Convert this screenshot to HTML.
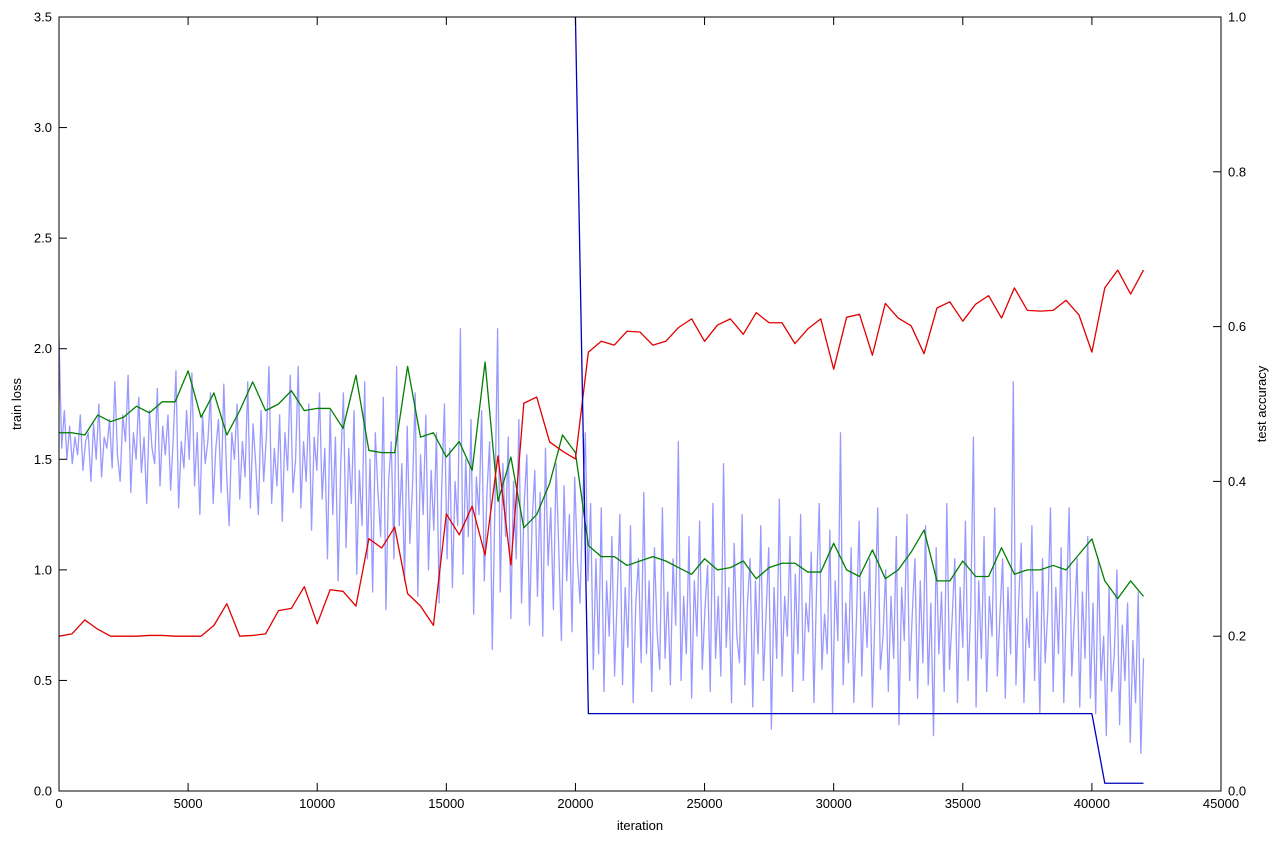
<!DOCTYPE html>
<html><head><meta charset="utf-8"><style>
body{margin:0;background:#fff;}
svg{display:block;font-family:"Liberation Sans",sans-serif;}
</style></head><body>
<svg id="chart" width="1279" height="842" viewBox="0 0 1279 842" xmlns="http://www.w3.org/2000/svg">
<defs><clipPath id="clip"><rect x="59" y="17" width="1162" height="774"/></clipPath></defs>
<rect width="1279" height="842" fill="#fff"/>
<g id="series" clip-path="url(#clip)"></g>
<g id="axes"></g>
</svg>
<script>
const xTicks=[0,5000,10000,15000,20000,25000,30000,35000,40000,45000];
const leftTicks=[0.0,0.5,1.0,1.5,2.0,2.5,3.0,3.5];
const rightTicks=[0.0,0.2,0.4,0.6,0.8,1.0];
const trainLossEnd=42000;
const trainLoss=[2.05,1.55,1.72,1.50,1.65,1.48,1.60,1.52,1.70,1.45,1.58,1.62,1.40,1.66,1.50,1.75,1.42,1.60,1.55,1.68,1.46,1.85,1.52,1.40,1.70,1.58,1.88,1.35,1.62,1.50,1.78,1.44,1.60,1.30,1.72,1.55,1.48,1.82,1.38,1.65,1.52,1.70,1.36,1.60,1.90,1.28,1.58,1.46,1.72,1.50,1.89,1.38,1.62,1.25,1.70,1.48,1.58,1.80,1.30,1.55,1.68,1.35,1.84,1.45,1.20,1.62,1.50,1.75,1.32,1.58,1.42,1.85,1.28,1.66,1.48,1.25,1.72,1.40,1.60,1.92,1.30,1.55,1.38,1.70,1.22,1.62,1.45,1.88,1.35,1.50,1.92,1.28,1.58,1.40,1.75,1.18,1.60,1.45,1.80,1.32,1.55,
1.05,1.72,1.25,1.60,0.95,1.48,1.80,1.10,1.55,1.30,1.72,0.98,1.45,1.20,1.85,1.05,1.50,0.90,1.62,1.35,1.15,1.78,0.82,1.40,1.58,1.05,1.92,1.20,1.48,0.95,1.65,1.12,1.38,1.80,0.88,1.52,1.25,1.70,1.00,1.45,1.18,1.62,0.85,1.38,1.75,1.05,1.55,0.92,1.40,1.20,2.09,0.98,1.50,1.15,1.68,0.80,1.42,1.25,1.72,0.95,1.35,1.58,0.64,1.30,2.09,0.90,1.48,1.15,1.60,0.78,1.40,1.05,1.68,0.85,1.30,1.52,0.75,1.22,1.45,0.88,1.35,0.70,1.55,1.02,1.28,0.82,1.48,1.10,0.68,1.38,0.95,1.25,0.72,1.42,1.05,0.85,1.30,1.62,0.95,
1.30,0.55,1.05,0.62,1.28,0.45,0.95,0.70,1.15,0.52,0.88,1.25,0.48,0.92,0.65,1.20,0.40,0.85,1.05,0.58,1.35,0.62,0.95,0.45,1.10,0.72,0.55,1.28,0.60,0.90,0.48,1.05,0.75,1.58,0.50,0.88,0.62,1.15,0.42,0.95,0.70,1.22,0.55,0.82,1.02,0.45,1.30,0.60,0.88,0.52,1.48,0.65,0.92,0.40,1.12,0.70,0.58,1.25,0.48,0.85,1.05,0.38,0.95,0.62,1.20,0.50,0.80,1.10,0.28,0.92,0.60,1.32,0.52,0.88,0.70,1.15,0.45,0.98,0.62,1.25,0.50,0.85,0.72,1.08,0.40,0.92,1.30,0.55,0.80,0.62,1.18,0.35,0.95,0.68,1.62,0.48,0.85,0.58,1.10,0.40,0.78,1.22,0.52,0.90,0.65,1.05,0.38,0.82,1.28,0.55,0.70,1.00,0.45,0.88,0.60,1.15,0.30,0.92,0.68,1.25,0.50,0.80,1.05,0.42,0.95,0.58,1.20,0.48,0.85,0.25,1.10,0.62,0.90,0.45,1.30,0.55,0.78,1.05,0.40,0.92,0.65,1.22,0.50,0.82,1.60,0.38,0.95,0.60,1.15,0.45,0.88,0.70,1.28,0.52,0.80,1.05,0.42,0.92,0.62,1.85,0.48,0.85,1.12,0.40,0.78,0.65,1.20,0.50,0.90,0.35,1.05,0.58,0.82,1.28,0.45,0.92,0.62,1.10,0.40,0.85,1.28,0.52,0.78,1.05,0.38,0.90,0.60,1.15,0.42,
0.85,0.35,1.05,0.50,0.70,0.25,0.92,0.45,0.62,1.00,0.30,0.75,0.50,0.85,0.22,0.68,0.40,0.90,0.17,0.60];
const testLoss=[1.62,1.62,1.61,1.70,1.67,1.69,1.74,1.71,1.76,1.76,1.90,1.69,1.80,1.61,1.72,1.85,1.72,1.75,1.81,1.72,1.73,1.73,1.64,1.88,1.54,1.53,1.53,1.92,1.60,1.62,1.51,1.58,1.45,1.94,1.31,1.51,1.19,1.25,1.39,1.61,1.53,1.11,1.06,1.06,1.02,1.04,1.06,1.04,1.01,0.98,1.05,1.00,1.01,1.04,0.96,1.01,1.03,1.03,0.99,0.99,1.12,1.00,0.97,1.09,0.96,1.00,1.08,1.18,0.95,0.95,1.04,0.97,0.97,1.10,0.98,1.00,1.00,1.02,1.00,1.07,1.14,0.95,0.87,0.95,0.88];
const testAcc=[0.200,0.203,0.221,0.209,0.200,0.200,0.200,0.201,0.201,0.200,0.200,0.200,0.214,0.242,0.200,0.201,0.203,0.233,0.236,0.264,0.216,0.260,0.258,0.239,0.326,0.314,0.341,0.255,0.239,0.214,0.358,0.331,0.368,0.305,0.433,0.292,0.501,0.509,0.451,0.439,0.429,0.567,0.581,0.576,0.594,0.593,0.576,0.581,0.599,0.610,0.581,0.602,0.610,0.590,0.618,0.605,0.605,0.578,0.597,0.610,0.545,0.612,0.616,0.563,0.630,0.611,0.601,0.565,0.624,0.632,0.607,0.629,0.640,0.611,0.650,0.621,0.620,0.621,0.634,0.615,0.567,0.650,0.673,0.642,0.673];
const accStart=20000;
const otherAcc=[1.0,0.1,0.1,0.1,0.1,0.1,0.1,0.1,0.1,0.1,0.1,0.1,0.1,0.1,0.1,0.1,0.1,0.1,0.1,0.1,0.1,0.1,0.1,0.1,0.1,0.1,0.1,0.1,0.1,0.1,0.1,0.1,0.1,0.1,0.1,0.1,0.1,0.1,0.1,0.1,0.1,0.01,0.01,0.01,0.01];

const L=59,R=1221,T=17,B=791;
const sx=v=>L+(v/45000)*(R-L);
const syL=v=>B-(v/3.5)*(B-T);
const syR=v=>B-(v/1.0)*(B-T);
const NS='http://www.w3.org/2000/svg';
const series=document.getElementById('series'),axes=document.getElementById('axes');
function mk(tag,attrs,parent){const e=document.createElementNS(NS,tag);for(const k in attrs)e.setAttribute(k,attrs[k]);parent.appendChild(e);return e;}
function line(xs,ys,color,w){return mk('polyline',{points:xs.map((x,i)=>x.toFixed(2)+','+ys[i].toFixed(2)).join(' '),fill:'none',stroke:color,'stroke-width':w,'stroke-linejoin':'round'},series);}

let e;
const n=trainLoss.length;
e=line(trainLoss.map((v,i)=>sx(i*trainLossEnd/(n-1))),trainLoss.map(syL),'#9999ff',1.3);


e=line(testLoss.map((v,i)=>sx(i*500)),testLoss.map(syL),'#007f00',1.3);


e=line(testAcc.map((v,i)=>sx(i*500)),testAcc.map(syR),'#e00000',1.3);


e=line(otherAcc.map((v,i)=>sx(accStart+i*500)),otherAcc.map(syR),'#0000bf',1.3);



e=mk('rect',{x:L,y:T,width:R-L,height:B-T,fill:'none',stroke:'#000','stroke-width':1},axes);


xTicks.forEach(v=>{const x=sx(v);
 mk('line',{x1:x,y1:B,x2:x,y2:B-8,stroke:'#000'},axes);
 mk('line',{x1:x,y1:T,x2:x,y2:T+8,stroke:'#000'},axes);
 const t=mk('text',{x:x,y:B+17,'text-anchor':'middle','font-size':13},axes);t.textContent=v;
 
 
});
leftTicks.forEach(v=>{const y=syL(v);
 mk('line',{x1:L,y1:y,x2:L+8,y2:y,stroke:'#000'},axes);
 const t=mk('text',{x:L-7,y:y+4.5,'text-anchor':'end','font-size':13},axes);t.textContent=v.toFixed(1);
 
 
});
rightTicks.forEach(v=>{const y=syR(v);
 mk('line',{x1:R,y1:y,x2:R-8,y2:y,stroke:'#000'},axes);
 const t=mk('text',{x:R+7,y:y+4.5,'text-anchor':'start','font-size':13},axes);t.textContent=v.toFixed(1);
 
 
});
let t=mk('text',{x:(L+R)/2,y:830,'text-anchor':'middle','font-size':13},axes);t.textContent='iteration';


t=mk('text',{x:21,y:(T+B)/2,'text-anchor':'middle','font-size':13,transform:'rotate(-90 21 '+((T+B)/2)+')'},axes);t.textContent='train loss';


t=mk('text',{x:1266,y:(T+B)/2,'text-anchor':'middle','font-size':13,transform:'rotate(-90 1266 '+((T+B)/2)+')'},axes);t.textContent='test accuracy';


</script>
</body></html>
